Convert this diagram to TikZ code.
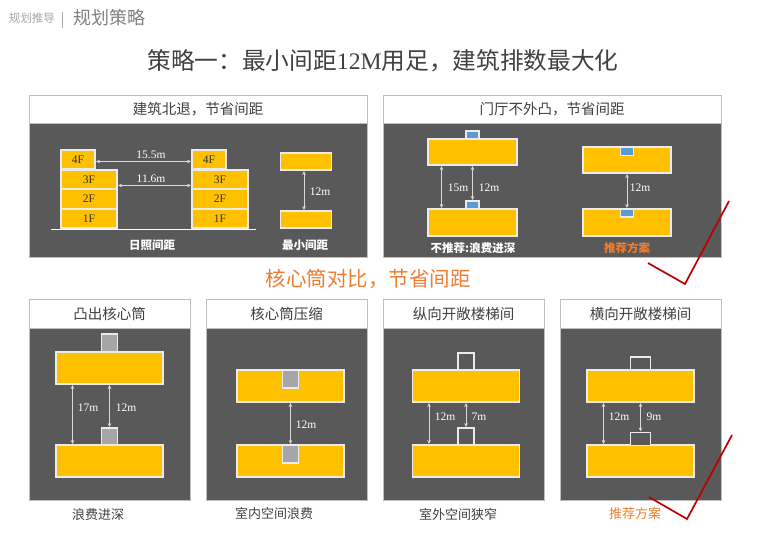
\documentclass[tikz,border=0pt]{standalone}
\usepackage{xcolor}
\usepackage{fontspec}
\usepackage{tikz}
\usetikzlibrary{arrows.meta, positioning}
\setmainfont{Liberation Serif}
\newfontfamily\cjk{Noto Sans CJK SC}
\definecolor{mygold}{RGB}{255,192,0}
\definecolor{mydark}{RGB}{89,89,89}
\definecolor{myblue}{RGB}{91,155,213}
\definecolor{mygray}{RGB}{166,166,166}
\definecolor{myedge}{RGB}{191,191,191}
\definecolor{myorange}{RGB}{237,125,49}
\definecolor{mytext}{RGB}{64,64,64}
\definecolor{mycheck}{RGB}{192,0,0}
\tikzset{
  header/.style={rectangle, draw=myedge, fill=white, line width=1pt, inner sep=0pt,
    text=mytext, font=\fontsize{14.5}{16}\selectfont\cjk},
  panel/.style={rectangle, draw=myedge, fill=mydark, line width=1pt, inner sep=0pt},
  slab/.style={rectangle, draw=white!92!black, fill=mygold, line width=1.2pt, inner sep=0pt, outer sep=0pt},
  floorbox/.style={slab, text=black!80, font=\fontsize{11.5}{12}\selectfont},
  hall/.style={rectangle, draw=white!92!black, fill=myblue, line width=1.1pt, inner sep=0pt, outer sep=0pt,
    minimum width=13pt, minimum height=8pt},
  core/.style={rectangle, draw=white!92!black, fill=mygray, line width=1.1pt, inner sep=0pt, outer sep=0pt,
    minimum width=16pt},
  stair/.style={rectangle, draw=white!92!black, fill=mydark, line width=1.1pt, inner sep=0pt, outer sep=0pt},
  dim/.style={{Stealth[length=4pt,width=3.6pt]}-{Stealth[length=4pt,width=3.6pt]}, draw=white!85!black,
    line width=0.8pt, shorten >=1pt, shorten <=1pt},
  dimlabel/.style={text=white, inner sep=0pt, font=\fontsize{11.5}{12}\selectfont},
  darkcap/.style={text=white, inner sep=0pt, font=\fontsize{11.5}{13}\selectfont\cjk\bfseries},
  caption/.style={text=mytext, inner sep=0pt, font=\fontsize{13}{15}\selectfont\cjk},
  checkmark/.style={draw=mycheck, line width=1.7pt}
}
\begin{document}
\begin{tikzpicture}[x=1pt, y=-1pt]
  \useasboundingbox (0,0) rectangle (760,544);

  % Page heading
  \node[text=mygray, inner sep=0pt, font=\fontsize{11.5}{13}\selectfont\cjk] (crumb) at (32,18) {规划推导};
  \node[rectangle, fill=mygray, inner sep=0pt, minimum width=0.8pt, minimum height=16pt] (crumbbar) at (62,20) {};
  \node[text=gray, inner sep=0pt, font=\fontsize{18}{20}\selectfont\cjk] (section) at (109,18) {规划策略};
  \node[text=mytext, inner sep=0pt, font=\fontsize{23.7}{26}\selectfont\cjk] (title) at (383,61) {策略一：最小间距{\rmfamily 12M}用足，建筑排数最大化};
  \node[text=myorange, inner sep=0pt, font=\fontsize{20.5}{23}\selectfont\cjk] (subtitle) at (368,279) {核心筒对比，节省间距};

  % Upper panels
  \node[panel, minimum width=338pt, minimum height=134pt] (bodyA) at (198,190) {};
  \node[header, minimum width=338pt, minimum height=28pt] (headA) at (198,109) {建筑北退，节省间距};
  \node[panel, minimum width=338pt, minimum height=134pt] (bodyB) at (552,190) {};
  \node[header, minimum width=338pt, minimum height=28pt] (headB) at (552,109) {门厅不外凸，节省间距};

  % Lower panels
  \node[panel, minimum width=161pt, minimum height=172pt] (bodyC) at (109.5,414) {};
  \node[header, minimum width=161pt, minimum height=29pt] (headC) at (109.5,313.5) {凸出核心筒};
  \node[panel, minimum width=161pt, minimum height=172pt] (bodyD) at (286.5,414) {};
  \node[header, minimum width=161pt, minimum height=29pt] (headD) at (286.5,313.5) {核心筒压缩};
  \node[panel, minimum width=161pt, minimum height=172pt] (bodyE) at (463.5,414) {};
  \node[header, minimum width=161pt, minimum height=29pt] (headE) at (463.5,313.5) {纵向开敞楼梯间};
  \node[panel, minimum width=161pt, minimum height=172pt] (bodyF) at (640.5,414) {};
  \node[header, minimum width=161pt, minimum height=29pt] (headF) at (640.5,313.5) {横向开敞楼梯间};

  % Floors, left building
  \node[floorbox, minimum width=34pt, minimum height=19pt] (fourL) at (78,159.5) {4F};
  \node[floorbox, minimum width=56pt, minimum height=19pt] (threeL) at (89,179.5) {3F};
  \node[floorbox, minimum width=56pt, minimum height=19pt] (twoL) at (89,199) {2F};
  \node[floorbox, minimum width=56pt, minimum height=19pt] (oneL) at (89,218.5) {1F};

  % Floors, right building
  \node[floorbox, minimum width=34pt, minimum height=19pt] (fourR) at (209,159.5) {4F};
  \node[floorbox, minimum width=56pt, minimum height=19pt] (threeR) at (220,179.5) {3F};
  \node[floorbox, minimum width=56pt, minimum height=19pt] (twoR) at (220,199) {2F};
  \node[floorbox, minimum width=56pt, minimum height=19pt] (oneR) at (220,218.5) {1F};

  % Ground and sun spacing
  \node[rectangle, fill=white, inner sep=0pt, minimum width=205pt, minimum height=1pt] (ground) at (153.5,229) {};
  \draw[dim] ([yshift=-2pt]fourL.east) -- ([yshift=-2pt]fourR.west);
  \draw[dim] ([yshift=-6pt]threeL.east) -- ([yshift=-6pt]threeR.west);
  \node[dimlabel] (sunfour) at (151,155) {15.5m};
  \node[dimlabel] (sunthree) at (151,179) {11.6m};
  \node[darkcap] (sun) at (152,245) {日照间距};

  % Minimum spacing
  \node[slab, minimum width=51pt, minimum height=17pt] (minN) at (306,161.5) {};
  \node[slab, minimum width=51pt, minimum height=17pt] (minS) at (306,219.5) {};
  \draw[dim] ([xshift=-2pt]minN.south) -- ([xshift=-2pt]minS.north);
  \node[dimlabel] (minlabel) at (320,192) {12m};
  \node[darkcap] (mincap) at (305,245) {最小间距};

  % Entrance hall, outward
  \node[slab, minimum width=89pt, minimum height=26pt] (outN) at (472.5,152) {};
  \node[slab, minimum width=89pt, minimum height=27pt] (outS) at (472.5,222.5) {};
  \node[hall] (outNh) at (472.5,135) {};
  \node[hall] (outSh) at (472.5,205) {};
  \draw[dim] ([xshift=-31pt]outN.south) -- ([xshift=-31pt]outS.north);
  \draw[dim] (outN.south) -- (outSh.north);
  \node[dimlabel] (outlong) at (458,188) {15m};
  \node[dimlabel] (outshort) at (489,188) {12m};
  \node[darkcap] (outcap) at (473,248) {不推荐:浪费进深};

  % Entrance hall, inward
  \node[slab, minimum width=88pt, minimum height=26pt] (inN) at (627,160) {};
  \node[slab, minimum width=88pt, minimum height=27pt] (inS) at (627,222.5) {};
  \node[hall] (inNh) at (627,151.5) {};
  \node[hall] (inSh) at (627,213) {};
  \draw[dim] (inN.south) -- (inS.north);
  \node[dimlabel] (inlabel) at (640,188) {12m};
  \node[darkcap, text=myorange] (incap) at (627,248) {推荐方案};

  % Protruding core
  \node[slab, minimum width=107pt, minimum height=32pt] (bulgeN) at (109.5,368) {};
  \node[slab, minimum width=107pt, minimum height=32pt] (bulgeS) at (109.5,461) {};
  \node[core, minimum height=18pt] (bulgeNc) at (109.5,343) {};
  \node[core, minimum height=17pt] (bulgeSc) at (109.5,436.5) {};
  \draw[dim] ([xshift=-37pt]bulgeN.south) -- ([xshift=-37pt]bulgeS.north);
  \draw[dim] (bulgeN.south) -- (bulgeSc.north);
  \node[dimlabel] (bulgelong) at (88,408) {17m};
  \node[dimlabel] (bulgeshort) at (126,408) {12m};
  \node[caption] (bulgecap) at (98,515) {浪费进深};

  % Compressed core
  \node[slab, minimum width=107pt, minimum height=32pt] (pressN) at (290.5,386) {};
  \node[slab, minimum width=107pt, minimum height=32pt] (pressS) at (290.5,461) {};
  \node[core, minimum height=18pt] (pressNc) at (290.5,379) {};
  \node[core, minimum height=18pt] (pressSc) at (290.5,454) {};
  \draw[dim] (pressN.south) -- (pressS.north);
  \node[dimlabel] (presslabel) at (306,425) {12m};
  \node[caption] (presscap) at (274,514) {室内空间浪费};

  % Lengthwise open stair
  \node[slab, minimum width=107pt, minimum height=32pt] (longN) at (466,386) {};
  \node[slab, minimum width=107pt, minimum height=32pt] (longS) at (466,461) {};
  \node[stair, minimum width=16pt, minimum height=17pt] (longNs) at (466,361.5) {};
  \node[stair, minimum width=16pt, minimum height=17pt] (longSs) at (466,436.5) {};
  \draw[dim] ([xshift=-37pt]longN.south) -- ([xshift=-37pt]longS.north);
  \draw[dim] (longN.south) -- (longSs.north);
  \node[dimlabel] (longwide) at (445,417) {12m};
  \node[dimlabel] (longnarrow) at (479,417) {7m};
  \node[caption] (longcap) at (458,514) {室外空间狭窄};

  % Crosswise open stair
  \node[slab, minimum width=107pt, minimum height=32pt] (crossN) at (640.5,386) {};
  \node[slab, minimum width=107pt, minimum height=32pt] (crossS) at (640.5,461) {};
  \node[stair, minimum width=20pt, minimum height=13pt] (crossNs) at (640.5,363.5) {};
  \node[stair, minimum width=20pt, minimum height=13pt] (crossSs) at (640.5,439) {};
  \draw[dim] ([xshift=-37pt]crossN.south) -- ([xshift=-37pt]crossS.north);
  \draw[dim] (crossN.south) -- (crossSs.north);
  \node[dimlabel] (crosswide) at (619,417) {12m};
  \node[dimlabel] (crossnarrow) at (654,417) {9m};
  \node[caption, text=myorange] (crosscap) at (635,514) {推荐方案};

  % Check marks
  \draw[checkmark] (648,263) -- (685,284) -- (729,201);
  \draw[checkmark] (649,497) -- (687,519) -- (732,435);
\end{tikzpicture}
\end{document}
